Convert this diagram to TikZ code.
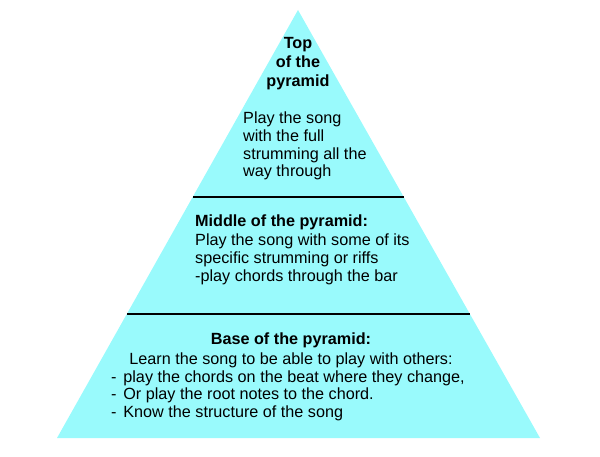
\documentclass[tikz,border=0pt]{standalone}
\usepackage{fontspec}
\setmainfont{Liberation Sans}
\definecolor{pyr}{RGB}{153,250,252}
\newcommand{\fsz}{\fontsize{16.2}{19}\selectfont}
\newcommand{\bul}{-\hspace{0.42em}}
\begin{document}
\begin{tikzpicture}[x=1pt,y=-1pt,
  txt/.style={font=\fsz, inner sep=0pt, anchor=base west},
  ctxt/.style={txt, anchor=base},
  btxt/.style={ctxt, font=\fsz\bfseries},
  divider/.style={line width=2pt, black}]
\useasboundingbox (0,0) rectangle (600,457);
\coordinate (A) at (298,10);
\coordinate (BL) at (57,438);
\coordinate (BR) at (540,438);
\fill[pyr] (A) -- (BL) -- (BR) -- cycle;
\coordinate (L1) at (193,197);
\coordinate (R1) at (404,197);
\coordinate (L2) at (127,314);
\coordinate (R2) at (470,314);
\draw[divider] (L1) -- (R1);
\draw[divider] (L2) -- (R2);
% top
\node[btxt] (t1) at (298,49) {Top};
\node[btxt] (t2) at (298,68) {of the};
\node[btxt] (t3) at (298,87) {pyramid};
\node[txt] (t4) at (243,124) {Play the song};
\node[txt] (t5) at (243,142) {with the full};
\node[txt] (t6) at (243,159.5) {strumming all the};
\node[txt] (t7) at (243,177) {way through};
% middle
\node[txt, font=\fsz\bfseries] (m1) at (195,227) {Middle of the pyramid:};
\node[txt] (m2) at (195,246) {Play the song with some of its};
\node[txt] (m3) at (195,264) {specific strumming or riffs};
\node[txt] (m4) at (195,282) {-play chords through the bar};
% base
\node[btxt] (b1) at (291,344) {Base of the pyramid:};
\node[ctxt] (b2) at (291,364) {Learn the song to be able to play with others:};
\node[txt] (b3) at (111,382) {\bul play the chords on the beat where they change,};
\node[txt] (b4) at (111,399.5) {\bul Or play the root notes to the chord.};
\node[txt] (b5) at (111,417) {\bul Know the structure of the song};
\end{tikzpicture}
\end{document}
